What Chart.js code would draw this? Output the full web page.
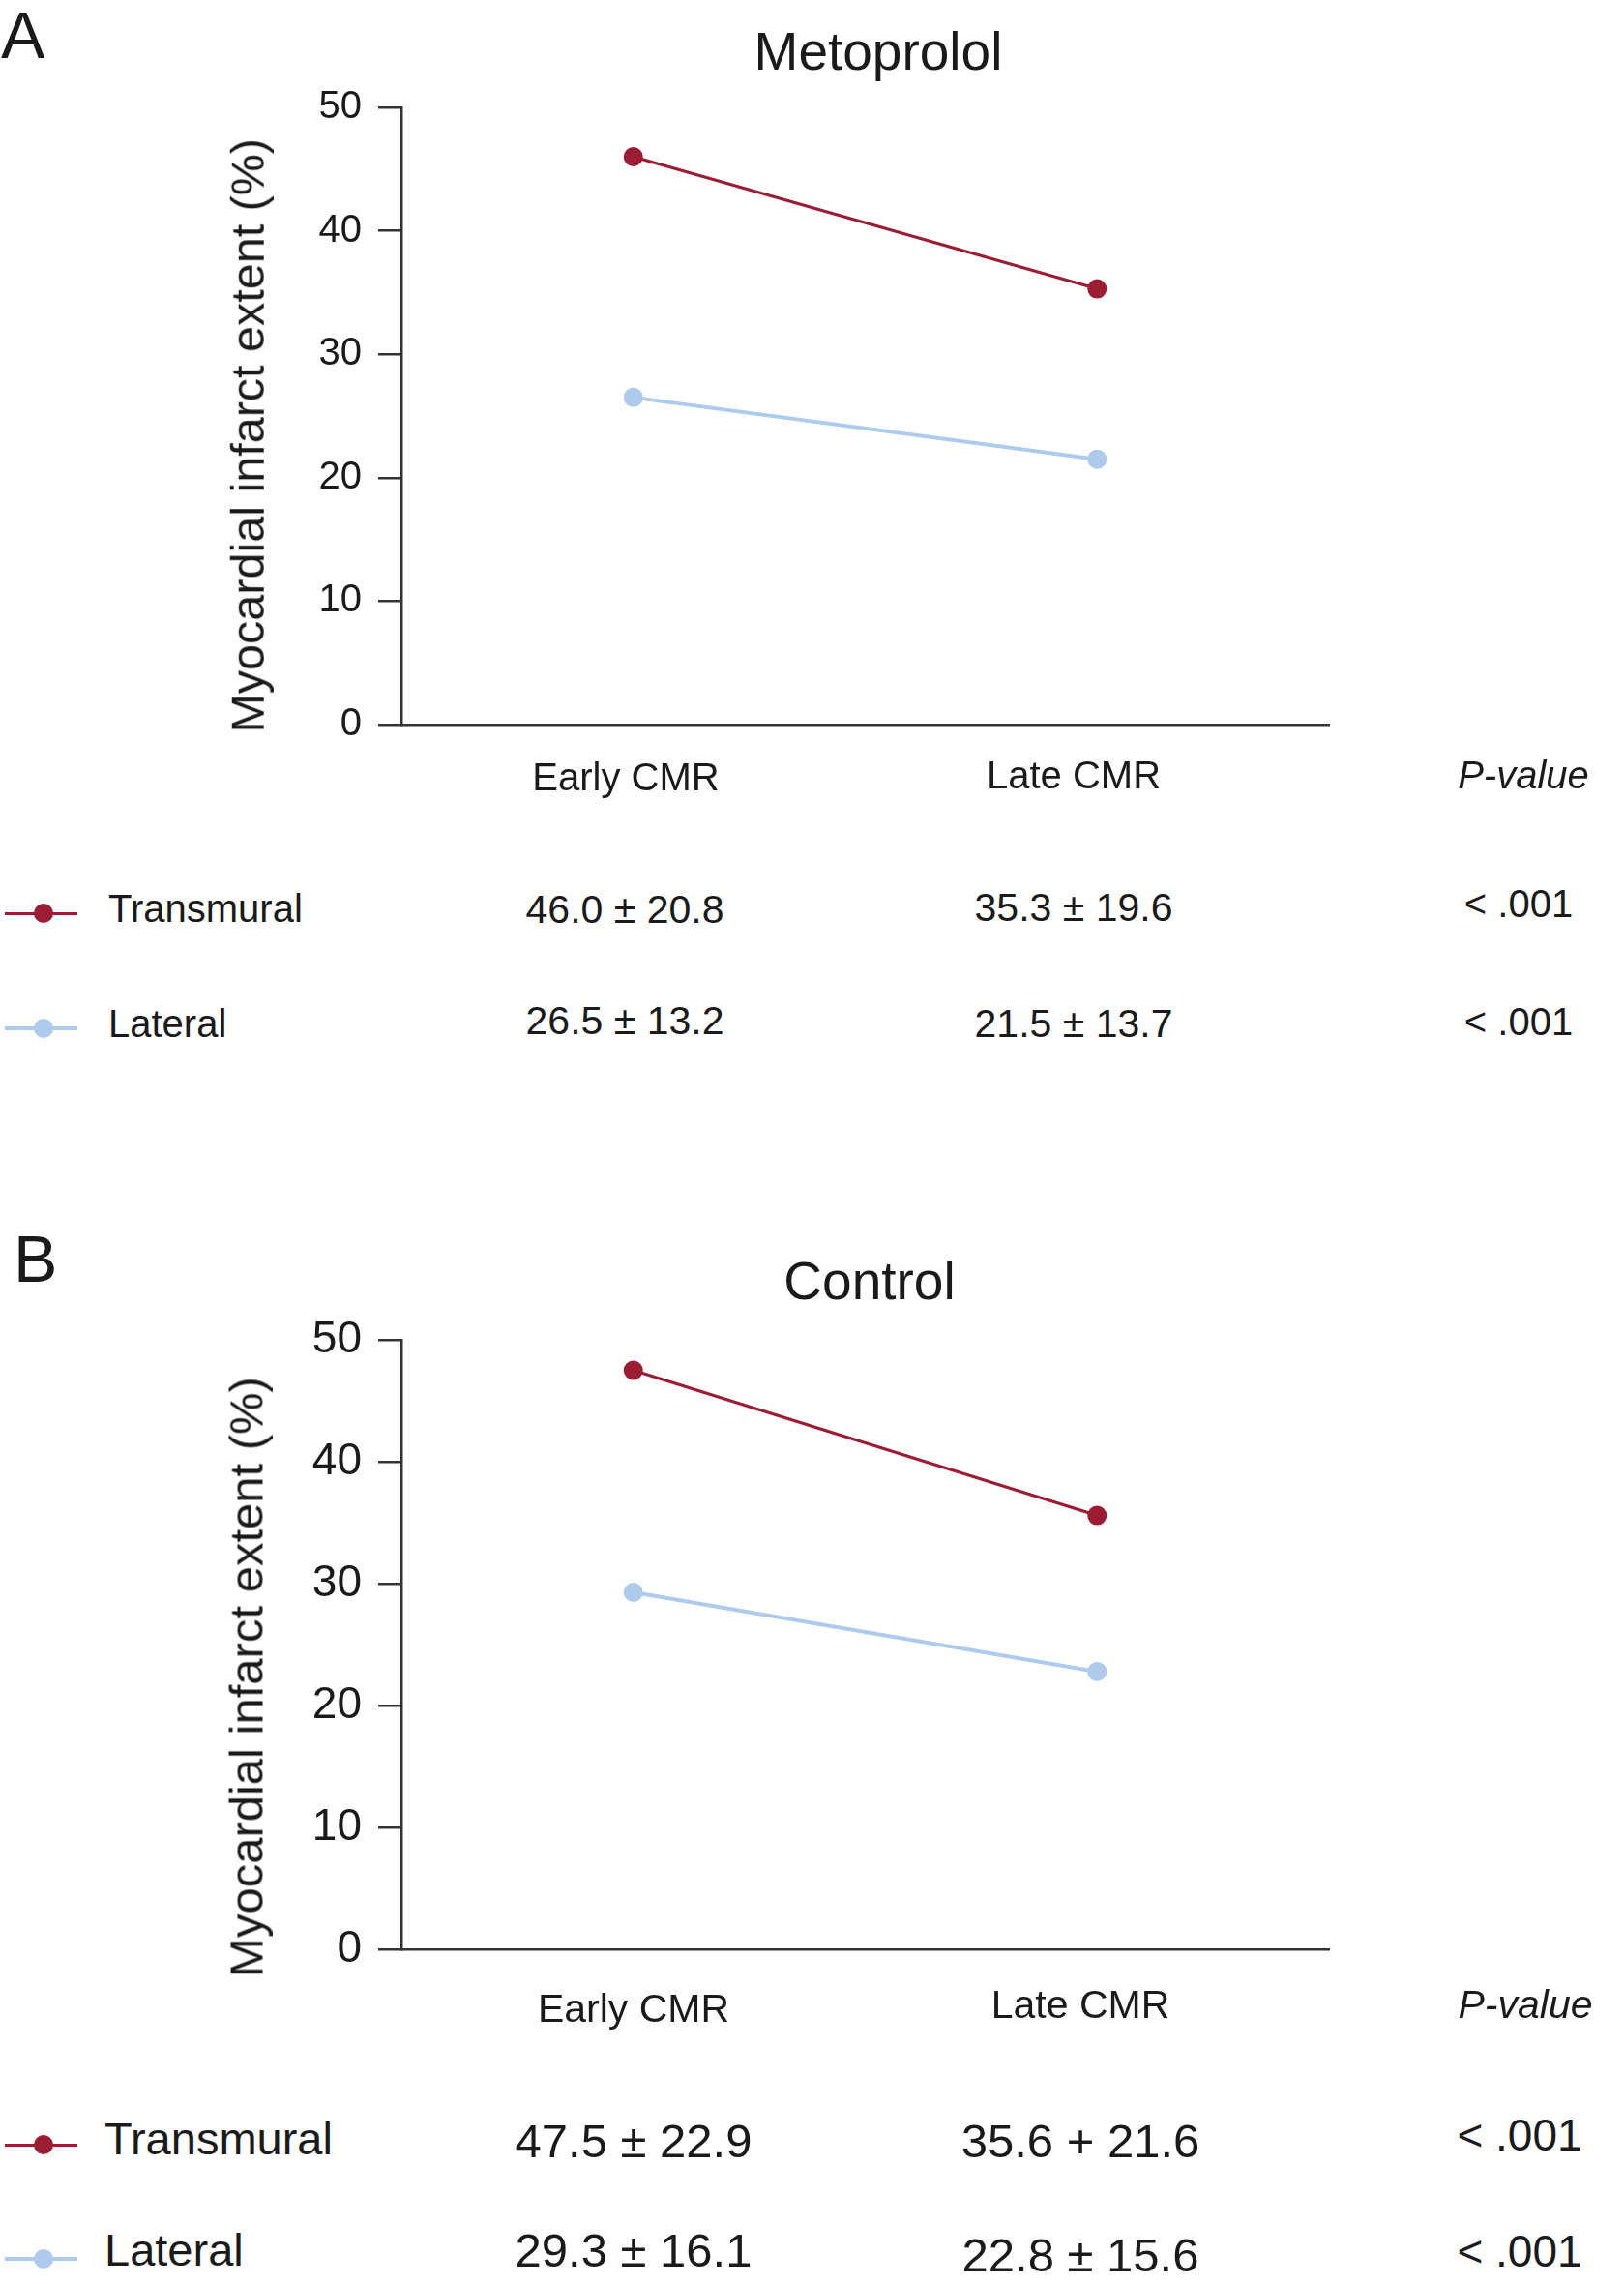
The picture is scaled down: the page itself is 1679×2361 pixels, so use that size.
<!DOCTYPE html>
<html>
<head>
<meta charset="utf-8">
<script src="https://cdn.jsdelivr.net/npm/chart.js@4.4.1/dist/chart.umd.min.js"></script>
<style>
html,body{margin:0;padding:0;background:#fff;}
#page{position:relative;width:1679px;height:2361px;overflow:hidden;font-family:"Liberation Sans",Arial,Helvetica,sans-serif;color:#1a1a1a;background:#fff;}
.t{position:absolute;white-space:nowrap;}
.cv{position:absolute;left:0;}
</style>
</head>
<body>
<div id="page">
  <canvas id="cA" class="cv" width="1679" height="800" style="top:0px;width:1679px;height:800px"></canvas>
  <canvas id="cB" class="cv" width="1679" height="800" style="top:1260px;width:1679px;height:800px"></canvas>
</div>
<script>
// ---------------- data ----------------
const categories = ['Early CMR', 'Late CMR'];
const seriesNames = ['Transmural', 'Lateral'];
const metoprololTransmural = [46.0, 35.3];
const metoprololLateral = [26.5, 21.5];
const controlTransmural = [47.5, 35.6];
const controlLateral = [29.3, 22.8];
const metoprololTransmuralText = ['46.0 ± 20.8', '35.3 ± 19.6', '< .001'];
const metoprololLateralText = ['26.5 ± 13.2', '21.5 ± 13.7', '< .001'];
const controlTransmuralText = ['47.5 ± 22.9', '35.6 + 21.6', '< .001'];
const controlLateralText = ['29.3 ± 16.1', '22.8 ± 15.6', '< .001'];
const panelLetters = ['A', 'B'];
const panelTitles = ['Metoprolol', 'Control'];
const pHeader = 'P-value';
const yTitle = 'Myocardial infarct extent (%)';
const yMin = 0, yMax = 50, yStep = 10;

// ---------------- styles ----------------
const RED = '#9c1d33';
const BLUE = '#aecbeb';
const AXIS = '#333333';
const TXT = '#1a1a1a';
const FONT = '"Liberation Sans", Arial, Helvetica, sans-serif';

const page = document.getElementById('page');

function text(str, x, baseline, size, align, opts) {
  opts = opts || {};
  const d = document.createElement('div');
  d.className = 't';
  d.textContent = str;
  d.style.fontSize = size + 'px';
  d.style.lineHeight = size + 'px';
  d.style.top = (baseline - 0.8465 * size) + 'px';
  if (opts.italic) d.style.fontStyle = 'italic';
  d.style.left = x + 'px';
  if (align === 'center') d.style.transform = 'translateX(-50%)';
  page.appendChild(d);
  return d;
}

function rotatedTitle(str, baselineX, centerY, size) {
  const W = 900;
  const d = document.createElement('div');
  d.className = 't';
  d.textContent = str;
  d.style.fontSize = size + 'px';
  d.style.lineHeight = size + 'px';
  d.style.width = W + 'px';
  d.style.height = size + 'px';
  d.style.textAlign = 'center';
  const cx = baselineX - 0.8465 * size + size / 2;
  d.style.left = (cx - W / 2) + 'px';
  d.style.top = (centerY - size / 2) + 'px';
  d.style.transform = 'rotate(-90deg)';
  page.appendChild(d);
}

function legendMarker(y, color, lw) {
  const l = document.createElement('div');
  l.style.position = 'absolute';
  l.style.left = '5px';
  l.style.width = '75px';
  l.style.top = (y - lw / 2) + 'px';
  l.style.height = lw + 'px';
  l.style.background = color;
  page.appendChild(l);
  const c = document.createElement('div');
  c.style.position = 'absolute';
  c.style.left = (45 - 10) + 'px';
  c.style.top = (y - 10) + 'px';
  c.style.width = '20px';
  c.style.height = '20px';
  c.style.borderRadius = '50%';
  c.style.background = color;
  page.appendChild(c);
}

function makeChart(id, canvasH, plotTop, plotBottom, tickSize, trans, lat) {
  const ctx = document.getElementById(id);
  return new Chart(ctx, {
    type: 'line',
    data: {
      labels: categories,
      datasets: [
        {
          label: seriesNames[1], data: lat,
          borderColor: BLUE, backgroundColor: BLUE, borderWidth: 4,
          pointRadius: 10, pointBorderWidth: 0, pointBackgroundColor: BLUE,
          tension: 0, fill: false
        },
        {
          label: seriesNames[0], data: trans,
          borderColor: RED, backgroundColor: RED, borderWidth: 3.2,
          pointRadius: 10, pointBorderWidth: 0, pointBackgroundColor: RED,
          tension: 0, fill: false
        }
      ]
    },
    options: {
      responsive: false,
      animation: false,
      devicePixelRatio: 1,
      layout: { padding: { left: 0, right: 1679 - 1374, top: plotTop, bottom: 0 } },
      plugins: { legend: { display: false }, title: { display: false }, tooltip: { enabled: false } },
      scales: {
        x: {
          type: 'category',
          offset: true,
          ticks: { display: false },
          grid: { display: false },
          border: { display: true, color: AXIS, width: 2.5 },
          afterFit: s => { s.height = canvasH - plotBottom; }
        },
        y: {
          min: yMin, max: yMax,
          ticks: { stepSize: yStep, padding: 17, color: TXT, font: { family: FONT, size: tickSize } },
          grid: { display: true, drawOnChartArea: false, drawTicks: true, tickLength: 24, color: AXIS, lineWidth: 2.5 },
          border: { display: true, color: AXIS, width: 2.5 },
          afterFit: s => { s.width = 415; }
        }
      }
    }
  });
}

// ---------------- panel A ----------------
makeChart('cA', 800, 111, 749, 40, metoprololTransmural, metoprololLateral);
text(panelLetters[0], 1, 60, 68, 'left');
text(panelTitles[0], 908, 73, 55, 'center');
rotatedTitle(yTitle, 273, 450, 48.5);
text(categories[0], 647, 817, 40, 'center');
text(categories[1], 1110, 815, 40, 'center');
text(pHeader, 1575, 815, 40, 'center', { italic: true });
legendMarker(944, RED, 3);
legendMarker(1063, BLUE, 4);
text(seriesNames[0], 112, 953, 40, 'left');
text(seriesNames[1], 112, 1072, 40, 'left');
text(metoprololTransmuralText[0], 646, 955, 41, 'center');
text(metoprololTransmuralText[1], 1110, 953, 41, 'center');
text(metoprololTransmuralText[2], 1570, 948, 40, 'center');
text(metoprololLateralText[0], 646, 1070, 41, 'center');
text(metoprololLateralText[1], 1110, 1073, 41, 'center');
text(metoprololLateralText[2], 1570, 1070, 40, 'center');

// ---------------- panel B ----------------
makeChart('cB', 800, 125, 763, 46, controlTransmural, controlLateral);
text(panelLetters[1], 14, 1325, 68, 'left');
text(panelTitles[1], 899, 1344, 55, 'center');
rotatedTitle(yTitle, 272, 1733, 49);
text(categories[0], 655, 2091, 41, 'center');
text(categories[1], 1117, 2087, 41, 'center');
text(pHeader, 1577, 2087, 41, 'center', { italic: true });
legendMarker(2217, RED, 3);
legendMarker(2335, BLUE, 4);
text(seriesNames[0], 108, 2227, 47, 'left');
text(seriesNames[1], 108, 2342, 47, 'left');
text(controlTransmuralText[0], 655, 2230, 49, 'center');
text(controlTransmuralText[1], 1117, 2230, 49, 'center');
text(controlTransmuralText[2], 1571, 2223, 46, 'center');
text(controlLateralText[0], 655, 2343, 49, 'center');
text(controlLateralText[1], 1117, 2348, 49, 'center');
text(controlLateralText[2], 1571, 2343, 46, 'center');
</script>
</body>
</html>
